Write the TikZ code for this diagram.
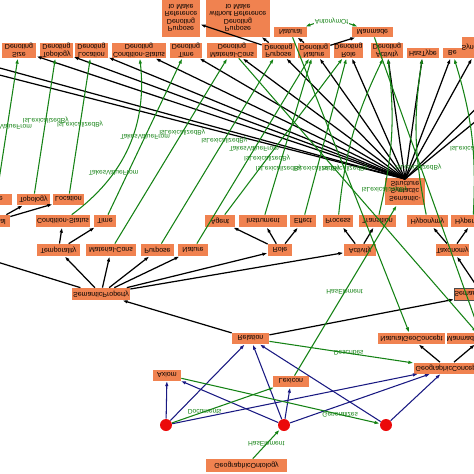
\documentclass[tikz,border=0pt]{standalone}
\usepackage{fontspec}
\setmainfont{Liberation Sans}
\usetikzlibrary{arrows.meta}
\definecolor{boxorange}{RGB}{240,130,80}
\definecolor{linkgreen}{RGB}{20,130,20}
\definecolor{linkblue}{RGB}{25,25,130}
\definecolor{dotred}{RGB}{235,10,10}
\tikzset{
  box/.style={fill=boxorange, font=\fontsize{4}{4.3}\selectfont, align=center, inner sep=0pt, yscale=-1},
  bw/.style={minimum width=#1*0.02cm},
  bh/.style={minimum height=#1*0.02cm},
  dot/.style={circle, fill=dotred, minimum size=0.24cm, inner sep=0pt},
  lbl/.style={font=\fontsize{3.8}{4}\selectfont, text=linkgreen, inner sep=0.5pt, yscale=-1}
}
\begin{document}
\begin{tikzpicture}[x=0.02cm, y=-0.02cm, >={Latex[length=3pt,width=2pt]}]
  \useasboundingbox (0,0) rectangle (474,474);
  \fill[white] (0,0) rectangle (474,474);
  \clip (0,0) rectangle (474,474);
  % top boxes
  \node[box, bw=38, bh=37] (pRef) at (181,18) {Purpose\\Denoting\\Reference\\to Make};
  \node[box, bw=64, bh=37] (pNoRef) at (238,18) {Purpose\\Denoting\\without Reference\\to Make};
  \node[box, bw=33, bh=10] (natural) at (290.5,32) {Natural};
  \node[box, bw=41, bh=10] (manmade) at (372.5,32) {Manmade};
  \begin{scope}[every node/.append style={bh=15}]
    \node[box, bw=34] (dSize) at (19,50.5) {Size\\Denoting};
    \node[box, bw=33] (dTopology) at (56.5,50.5) {Topology\\Denoting};
    \node[box, bw=33] (dLocation) at (91.5,50.5) {Location\\Denoting};
    \node[box, bw=54] (dCondition) at (139,50.5) {Condition-Status\\Denoting};
    \node[box, bw=32] (dTime) at (186,50.5) {Time\\Denoting};
    \node[box, bw=50] (dMaterial) at (232,50.5) {Material-Cons\\Denoting};
    \node[box, bw=33] (dPurpose) at (278.5,50.5) {Purpose\\Denoting};
    \node[box, bw=32] (dNature) at (314,50.5) {Nature\\Denoting};
    \node[box, bw=29] (dRole) at (348.5,50.5) {Role\\Denoting};
    \node[box, bw=32] (dActivity) at (387,50.5) {Activity\\Denoting};
  \end{scope}
  \node[box, bw=32, bh=10] (hasType) at (423,53) {HasType};
  \node[box, bw=19, bh=10] (be) at (452.5,53) {Be};
  \node[box, bw=24, bh=21] (sRight) at (478,47.5) {Synonymy};
  % middle boxes
  \node[box, bw=40, bh=27] (semSyn) at (405,191.5) {Semantic-\\Syntactic\\Structure};
  \begin{scope}[every node/.append style={bh=11}]
    \node[box, bw=32] (size) at (-4,199.5) {Size};
    \node[box, bw=33] (topology) at (33.5,199.5) {Topology};
    \node[box, bw=31] (location) at (68.5,199.5) {Location};
  \end{scope}
  \begin{scope}[every node/.append style={bh=12}]
    \node[box, bw=30] (spatial) at (-5,221) {Spatial};
    \node[box, bw=54] (condition) at (63,221) {Condition-Status};
    \node[box, bw=22] (time) at (105,221) {Time};
    \node[box, bw=30] (agent) at (220,221) {Agent};
    \node[box, bw=48] (instrument) at (263,221) {Instrument};
    \node[box, bw=26] (effect) at (303,221) {Effect};
    \node[box, bw=30] (process) at (338,221) {Process};
    \node[box, bw=37] (transition) at (377.5,221) {Transition};
    \node[box, bw=41] (hyponymy) at (427.5,221) {Hyponymy};
    \node[box, bw=44] (hypernymy) at (473,221) {Hypernymy};
    \node[box, bw=43] (temporality) at (58.5,250) {Temporality};
    \node[box, bw=50] (materialCons) at (111,250) {Material-Cons};
    \node[box, bw=33] (purpose) at (157.5,250) {Purpose};
    \node[box, bw=30] (nature) at (193,250) {Nature};
    \node[box, bw=24] (role) at (280,250) {Role};
    \node[box, bw=32] (activity) at (360,250) {Activity};
    \node[box, bw=33] (taxonomy) at (452.5,250) {Taxonomy};
    \node[box, bw=58] (semProp) at (101,294) {SemanticProperty};
    \node[box, bw=46, draw=black!70, line width=0.4pt] (semRel) at (482,294) {SemanticRelation};
  \end{scope}
  % lower boxes
  \begin{scope}[every node/.append style={bh=11}]
    \node[box, bw=37] (relation) at (250.5,338.5) {Relation};
    \node[box, bw=67] (natGeo) at (411.5,338.5) {NaturalGeoConcept};
    \node[box, bw=62] (manGeo) at (482,338.5) {ManmadeGeoConcept};
    \node[box, bw=66] (geoConcept) at (447,368) {GeographicConcept};
    \node[box, bw=36] (lexicon) at (291,381.5) {Lexicon};
    \node[box, bw=28] (axiom) at (167,375) {Axiom};
  \end{scope}
  \node[dot] (c1) at (166,425) {};
  \node[dot] (c2) at (284,425) {};
  \node[dot] (c3) at (386,425) {};
  \node[box, bw=81, bh=13] (geoOnto) at (246.5,465.5) {GeographicOntology};
  % ends outside the frame
  \coordinate (fan) at (405,179);
  \coordinate (offL1) at (-66,50);
  \coordinate (offL2) at (-98,50);
  \coordinate (offR1) at (540,45);
  \coordinate (offR2) at (563,50);
  \coordinate (offL3) at (-100,232);
  % black links
  \begin{scope}[every edge/.style={draw=black, line width=0.7pt, ->}]
    \foreach \t in {dSize,dTopology,dLocation,dCondition,dTime,dMaterial,dPurpose,dNature,dRole,dActivity,hasType,be,sRight,offL1,offL2,offR1,offR2}
      \path (fan) edge (\t);
    \path (dPurpose) edge (pRef);
    \path (dPurpose) edge (pNoRef);
    \path (dNature) edge (natural);
    \path (dNature) edge (manmade);
    \foreach \t in {temporality,materialCons,purpose,nature,role,activity,offL3}
      \path (semProp) edge (\t);
    \path (relation) edge (semProp);
    \path (relation) edge (semRel);
    \foreach \t in {size,topology,location}
      \path (spatial) edge (\t);
    \path (temporality) edge (condition);
    \path (temporality) edge (time);
    \foreach \t in {agent,instrument,effect}
      \path (role) edge (\t);
    \path (activity) edge (process);
    \path (activity) edge (transition);
    \path (semRel) edge (taxonomy);
    \path (taxonomy) edge (hyponymy);
    \path (taxonomy) edge (hypernymy);
    \path (geoConcept) edge (natGeo);
    \path (geoConcept) edge (manGeo);
  \end{scope}
  % blue links
  \begin{scope}[every edge/.style={draw=linkblue, line width=0.6pt, ->}]
    \path (c1) edge (axiom);
    \path (c1) edge (relation);
    \path (c1) edge (geoConcept);
    \path (c2) edge (axiom);
    \path (c2) edge (relation);
    \path (c2) edge (lexicon);
    \path (c2) edge (geoConcept);
    \path (c3) edge (relation);
    \path (c3) edge (geoConcept);
  \end{scope}
  % green links
  \begin{scope}[every edge/.style={draw=linkgreen, line width=0.6pt, ->}]
    \path (size) edge node[lbl, pos=0.49] {TakesValueFrom} (dSize);
    \path (topology) edge node[lbl, pos=0.54] {IsLexicalizedBy} (dTopology);
    \path (location) edge node[lbl, pos=0.51] {IsLexicalizedBy} (dLocation);
    \path (condition) edge[bend right=30] node[lbl, pos=0.32] {TakesValueFrom} (dCondition);
    \path (time) edge node[lbl, pos=0.5] {TakesValueFrom} (dTime);
    \path (materialCons) edge node[lbl, pos=0.6] {IsLexicalizedBy} (dMaterial);
    \path (purpose) edge node[lbl, pos=0.56] {IsLexicalizedBy} (dPurpose);
    \path (nature) edge node[lbl, pos=0.51] {TakesValueFrom} (dNature);
    \path (agent) edge node[lbl, pos=0.36] {IsLexicalizedBy} (dRole);
    \path (instrument) edge node[lbl, pos=0.3] {IsLexicalizedBy} (dNature);
    \path (effect) edge node[lbl, pos=0.3] {IsLexicalizedBy} (dRole);
    \path (process) edge[bend left=10] node[lbl, pos=0.27] {IsLexicalizedBy} (dActivity);
    \path (transition) edge[bend right=10] node[lbl, pos=0.15] {IsLexicalizedBy} (dActivity);
    \path (hyponymy) edge[bend left=10] node[lbl, pos=0.29] {IsLexicalizedBy} (hasType);
    \path (hypernymy) edge[bend right=10] node[lbl, pos=0.41] {IsLexicalizedBy} (be);
    \path (natural) edge (natGeo);
    \path (manmade) edge (manGeo);
    \path (dMaterial) edge (manGeo);
    \path (natural) edge[<->, bend left=20] node[lbl, fill=white] {AntonymOf} (manmade);
    \path (lexicon) edge node[lbl, pos=0.49] {HasElement} (semSyn);
    \path (relation) edge node[lbl, pos=0.55] {Describes} (geoConcept);
    \path (axiom) edge node[lbl, pos=0.8] {Generalizes} (c3);
    \path (c1) edge node[lbl, pos=0.32] {Documents} (lexicon);
    \path (geoOnto) edge node[lbl, pos=0.5] {HasElement} (c2);
  \end{scope}
\end{tikzpicture}
\end{document}
